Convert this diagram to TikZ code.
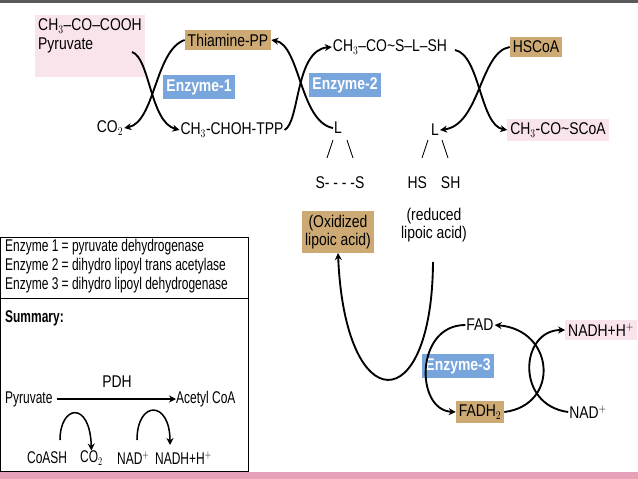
\documentclass[tikz,border=0pt]{standalone}
\usepackage{fontspec}
\setmainfont{Liberation Sans}
\usetikzlibrary{positioning,arrows.meta}
\definecolor{pinkbg}{RGB}{250,228,236}
\definecolor{tanbg}{RGB}{205,170,115}
\definecolor{bluebg}{RGB}{120,165,220}
\newcommand{\fs}{\fontsize{14.5}{16}\selectfont}
\begin{document}
\begin{tikzpicture}[x=0.03cm,y=-0.03cm,
  txt/.style={font=\fs,inner sep=1pt,align=center,xscale=0.82},
  pk/.style={txt,fill=pinkbg,inner sep=3pt},
  tn/.style={txt,fill=tanbg,inner sep=3pt},
  enz/.style={txt,fill=bluebg,text=white,font=\bfseries\fs,inner sep=4pt},
  leg/.style={txt,xscale=0.86,anchor=west,inner sep=0pt,align=left},
  arr/.style={-{Stealth[length=6pt,width=6pt]},line width=1.6pt}]
  \useasboundingbox (0,0) rectangle (638,479);
  \fill[gray!70!black] (0,0) rectangle (638,3);
  \fill[pinkbg!70!purple] (0,472) rectangle (638,479);
  % top row
  \node[pk,align=left] (pyr) at (90,46) {CH$_3$--CO--COOH\\Pyruvate\\[4pt]};
  \node[tn] (tpp) at (228,40) {Thiamine-PP};
  \node[enz] (e1) at (199,87) {Enzyme-1};
  \node[txt] (co2) at (110,128) {CO$_2$};
  \node[txt] (htpp) at (232,130) {CH$_3$-CHOH-TPP};
  \node[txt] (acl) at (390,47) {CH$_3$--CO\textasciitilde S--L--SH};
  \node[enz] (e2) at (345,85) {Enzyme-2};
  \node[tn] (hscoa) at (536,47) {HSCoA};
  \node[pk] (accoa) at (558,130) {CH$_3$-CO\textasciitilde SCoA};
  % lipoic acid
  \node[txt] (lox) at (338,128) {L};
  \node[txt] (sox) at (340,183) {S- - - -S};
  \draw[line width=0.8pt] (333,140) -- (327,158) (347,140) -- (353,158);
  \node[tn] (oxi) at (338,232) {(Oxidized\\lipoic acid)};
  \node[txt] (lred) at (435,130) {L};
  \node[txt] (sred) at (434,183) {HS\quad SH};
  \draw[line width=0.8pt] (428,140) -- (422,158) (442,140) -- (448,158);
  \node[txt] (red) at (434,225) {(reduced\\lipoic acid)};
  % enzyme 3
  \node[txt] (fad) at (480,325) {FAD};
  \node[enz] (e3) at (458,366) {Enzyme-3};
  \node[tn] (fadh) at (480,412) {FADH$_2$};
  \node[pk] (nadh) at (601,330) {NADH+H$^+$};
  \node[txt] (nad) at (588,412) {NAD$^+$};
  % crossings
  \draw[arr] (132,52) .. controls (150,58) and (150,122) .. (htpp.west);
  \draw[arr] (tpp.west) .. controls (155,50) and (155,122) .. (co2.east);
  \draw[arr] (htpp.east) .. controls (300,122) and (295,50) .. (acl.west);
  \draw[arr] (lox.west) .. controls (300,122) and (300,45) .. (tpp.east);
  \draw[arr] (455,50) .. controls (480,55) and (480,125) .. (accoa.west);
  \draw[arr] (hscoa.west) .. controls (480,52) and (480,125) .. (lred.east);
  \draw[arr] (433,262) .. controls (432,420) and (345,420) .. (oxi.south);
  \draw[arr] (fad.west) .. controls (415,325) and (415,410) .. (fadh.west);
  \draw[arr] (fadh.east) .. controls (560,405) and (555,330) .. (fad.east);
  \draw[arr] (nad.west) .. controls (515,405) and (520,330) .. (nadh.west);
  % legend
  \draw[line width=0.8pt] (0,237) rectangle (248,471) (0,298) -- (248,298);
  \node[leg] (legtxt) at (5,266) {Enzyme 1 = pyruvate dehydrogenase\\Enzyme 2 = dihydro lipoyl trans acetylase\\Enzyme 3 = dihydro lipoyl dehydrogenase};
  \node[leg,font=\bfseries\fs] (sum) at (5,318) {Summary:};
  \node[leg] (spyr) at (5,399) {Pyruvate};
  \node[leg] (sacc) at (176,399) {Acetyl CoA};
  \node[txt] (pdh) at (117,382) {PDH};
  \draw[arr,line width=1.4pt] (spyr.east) ++(4,0) -- (sacc.west);
  \node[leg] (coash) at (27,458) {CoASH};
  \node[leg] (sco2) at (80,458) {CO$_2$};
  \node[leg] (snad) at (117,458) {NAD$^+$};
  \node[leg] (snadh) at (155,458) {NADH+H$^+$};
  \coordinate (h1) at (60,440);
  \coordinate (h2) at (137,440);
  \coordinate (t2) at (170,445);
  \draw[arr,line width=1.3pt] (h1) .. controls (60,405) and (90,400) .. (sco2.north);
  \draw[arr,line width=1.3pt] (h2) .. controls (137,400) and (170,400) .. (t2);
\end{tikzpicture}
\end{document}
